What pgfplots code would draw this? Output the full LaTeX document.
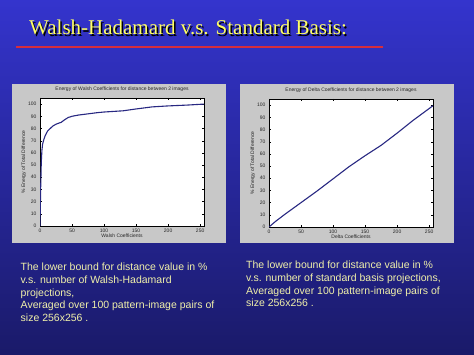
\documentclass[border=0pt]{standalone}
\usepackage{fontspec}
\setmainfont{Liberation Sans}
\newfontfamily\serifrm{Liberation Serif}
\usepackage{pgfplots}
\pgfplotsset{compat=1.18}
\definecolor{bgtop}{RGB}{52,52,205}
\definecolor{bgmid}{RGB}{42,42,165}
\definecolor{bgbot}{RGB}{26,26,105}
\definecolor{titleyellow}{RGB}{255,255,102}
\definecolor{redline}{RGB}{215,45,60}
\definecolor{panelgray}{RGB}{200,200,200}
\definecolor{curve}{RGB}{40,40,130}
\definecolor{bodytext}{RGB}{240,240,170}
\pgfplotsset{
  matlab/.style={
    scale only axis, width=164pt, height=128pt, anchor=south west,
    xmin=0, xmax=256, ymin=0, ymax=105,
    xtick={0,50,...,250}, ytick={0,10,...,100},
    tick align=inside, tick pos=both, major tick length=2pt,
    axis line style={black, line width=0.4pt},
    tick style={black, line width=0.3pt},
    ticklabel style={font=\fontsize{5}{6}\selectfont, text=black!85},
    xticklabel style={yshift=1pt},
    /pgf/number format/assume math mode=true,
    title style={font=\fontsize{5}{6}\selectfont, text=black!85, yshift=-3pt},
    label style={font=\fontsize{5}{6}\selectfont, text=black!85},
    xlabel style={yshift=5pt},
    ylabel style={yshift=-5pt},
    axis background/.style={fill=white},
  }
}
\begin{document}
\begin{tikzpicture}[x=1pt,y=1pt]
\useasboundingbox (0,0) rectangle (474,355);
\shade[top color=bgtop, middle color=bgmid, bottom color=bgbot] (0,0) rectangle (474,355);
% slide title
\node[anchor=base west, inner sep=0, text=black, font=\serifrm\fontsize{21}{24}\selectfont] at (30.5,318.5) {Walsh-Hadamard v.s. Standard Basis:};
\node[anchor=base west, inner sep=0, text=titleyellow, font=\serifrm\fontsize{21}{24}\selectfont] at (29,320) {Walsh-Hadamard v.s. Standard Basis:};
\draw[redline, line width=2pt] (16,308) -- (383,308);
% figure panels
\fill[panelgray] (12,112) rectangle (226,271);
\fill[panelgray] (240,112) rectangle (454,271);

\begin{axis}[matlab, at={(40pt,129pt)},
  title={Energy of Walsh Coefficients for distance between 2 images},
  xlabel={Walsh Coefficients}, ylabel={\% Energy of Total Difference}]
\addplot[curve, line width=1.1pt] coordinates {
(0,0) (1,30) (2,52) (3,62) (4,67) (6,71) (8,74) (12,78) (16,80) (20,82)
(25,83.5) (30,84.5) (33,85) (38,87) (44,89) (50,90) (60,91) (75,92)
(90,93) (100,93.5) (130,94.5) (150,96) (175,97.7) (200,98.5) (230,99.2) (256,100)};
\end{axis}

\begin{axis}[matlab, at={(269pt,128pt)},
  title={Energy of Delta Coefficients for distance between 2 images},
  xlabel={Delta Coefficients}, ylabel={\% Energy of Total Difference}]
\addplot[curve, line width=1.1pt] coordinates {
(0,0) (10,4.5) (25,10.5) (50,20) (75,29.5) (100,39.5) (125,49.5)
(150,58.5) (175,67) (200,77) (225,87.5) (256,99.5)};
\end{axis}

% captions
\begin{scope}[every node/.style={anchor=base west, inner sep=0, text=bodytext, font=\fontsize{10.5}{12.8}\selectfont}]
\node at (20.5,84) {The lower bound for distance value in \%};
\node at (20.5,71) {v.s. number of Walsh-Hadamard};
\node at (20.5,58.5) {projections,};
\node at (20.5,46) {Averaged over 100 pattern-image pairs of};
\node at (20.5,33) {size 256x256 .};
\node at (246,86) {The lower bound for distance value in \%};
\node at (246,73) {v.s. number of standard basis projections,};
\node at (246,60.5) {Averaged over 100 pattern-image pairs of};
\node at (246,48) {size 256x256 .};
\end{scope}
\end{tikzpicture}
\end{document}
